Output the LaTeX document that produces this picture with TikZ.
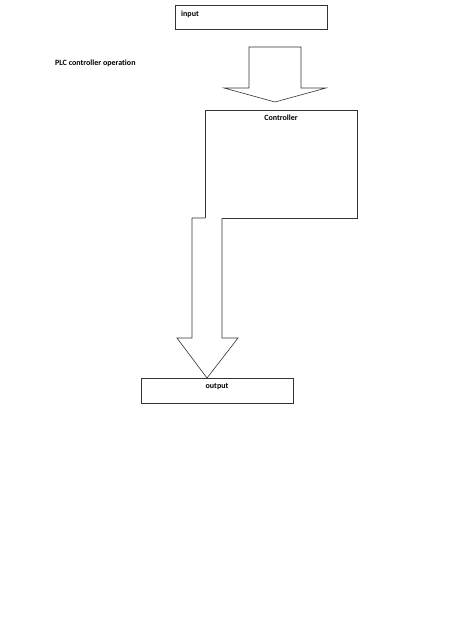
\documentclass[tikz,border=0pt]{standalone}
\usepackage{fontspec}
\setmainfont[Ligatures={NoCommon}]{Carlito}
\begin{document}
\begin{tikzpicture}[x=1pt,y=-1pt,
  box/.style={draw=black!80, line width=0.6pt},
  lbl/.style={font=\bfseries\fontsize{8}{9.6}\selectfont, inner sep=0pt},
  fatarrow/.style={draw=black!80, fill=white, line width=0.6pt, line join=miter}]
\useasboundingbox (0,0) rectangle (474,632);
% input box
\draw[box] (175,5) rectangle (327,29);
\node[lbl, anchor=west] (in) at (181,14) {input};
% title
\node[lbl, anchor=west] (title) at (55,63) {PLC controller operation};
% arrow 1
\draw[fatarrow] (249,47) -- (301,47) -- (301,88) -- (326,88) -- (275,102) -- (224,88) -- (249,88) -- cycle;
% controller box
\draw[box] (205,110) rectangle (357,218);
\node[lbl] (ctrl) at (281,118) {Controller};
% arrow 2
\draw[fatarrow] (192,218) -- (205,218) (222,218) -- (222,338) -- (238,338) -- (207,378) -- (177,338) -- (192,338) -- (192,218);
% output box
\draw[box] (141,378) rectangle (293,403);
\node[lbl] (out) at (217,387) {output};
\end{tikzpicture}
\end{document}
